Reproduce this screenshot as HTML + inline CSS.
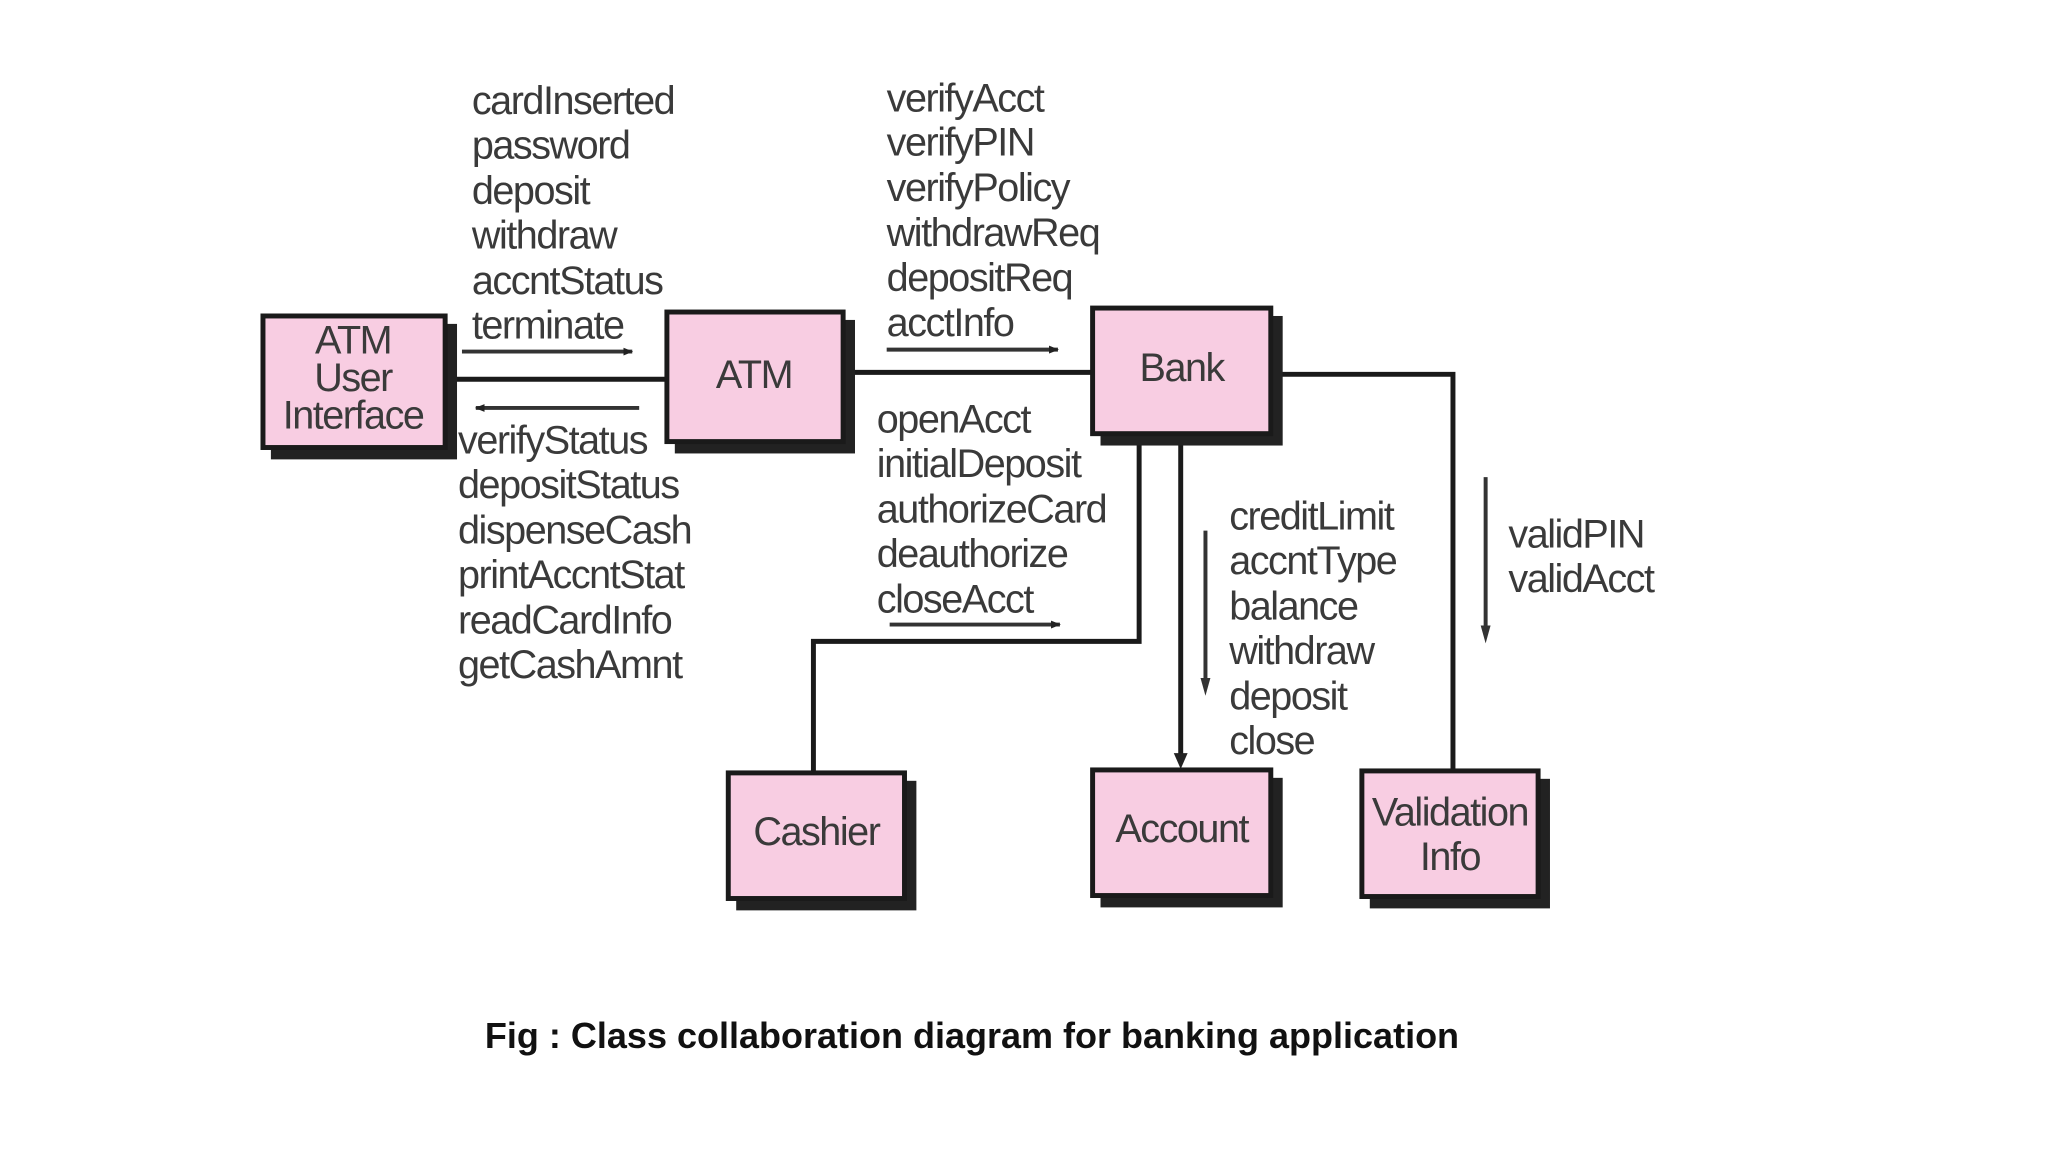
<!DOCTYPE html>
<html><head><meta charset="utf-8"><style>
html,body{margin:0;padding:0;background:#fff}
svg{display:block}
.t{font-family:"Liberation Sans",sans-serif;font-size:40px;fill:#3a3a3a;letter-spacing:-1.5px}
.b{font-family:"Liberation Sans",sans-serif;font-size:40px;fill:#3a3a3a;letter-spacing:-1.5px;text-anchor:middle}
</style></head><body>
<svg width="2048" height="1152" viewBox="0 0 2048 1152" xmlns="http://www.w3.org/2000/svg">
<defs>
<marker id="ah" markerWidth="10" markerHeight="8" refX="9" refY="4" orient="auto" markerUnits="userSpaceOnUse">
<path d="M0,0 L10,4 L0,8 z" fill="#222"/></marker>
</defs>
<g transform="matrix(0.99 0 0 0.989 -1.35 -0.5)">
<g stroke="#1a1a1a" stroke-width="5" fill="none">
<line x1="453" y1="384" x2="673" y2="384"/>
<line x1="855" y1="377" x2="1103" y2="377"/>
<polyline points="1287,379 1469,379 1469,778"/>
<polyline points="1152,441 1152,649 823,649 823,780"/>
<line x1="1194" y1="441" x2="1194" y2="765"/>
</g>
<path d="M1187,762 L1194,778 L1201,762 z" fill="#222"/>
<g stroke="#333" stroke-width="4">
<line x1="468" y1="356" x2="640" y2="356" marker-end="url(#ah)"/>
<line x1="647" y1="413" x2="482" y2="413" marker-end="url(#ah)"/>
<line x1="897" y1="354" x2="1070" y2="354" marker-end="url(#ah)"/>
<line x1="900" y1="632" x2="1072" y2="632" marker-end="url(#ah)"/>
<line x1="1219" y1="537" x2="1219" y2="690"/>
<line x1="1502" y1="483" x2="1502" y2="637"/>
</g>
<path d="M1214,686 L1219,704 L1224,686 z" fill="#333"/>
<path d="M1497,633 L1502,651 L1507,633 z" fill="#333"/>
<g>
<rect x="275" y="328" width="188" height="137" fill="#222"/>
<rect x="267" y="320" width="184" height="133" fill="#f8cde2" stroke="#1a1a1a" stroke-width="5"/>
<rect x="683" y="324" width="182" height="135" fill="#222"/>
<rect x="675" y="316" width="178" height="131" fill="#f8cde2" stroke="#1a1a1a" stroke-width="5"/>
<rect x="1113" y="320" width="184" height="131" fill="#222"/>
<rect x="1105" y="312" width="180" height="127" fill="#f8cde2" stroke="#1a1a1a" stroke-width="5"/>
<rect x="745" y="790" width="182" height="131" fill="#222"/>
<rect x="737" y="782" width="178" height="127" fill="#f8cde2" stroke="#1a1a1a" stroke-width="5"/>
<rect x="1113" y="787" width="184" height="131" fill="#222"/>
<rect x="1105" y="779" width="180" height="127" fill="#f8cde2" stroke="#1a1a1a" stroke-width="5"/>
<rect x="1385" y="788" width="182" height="131" fill="#222"/>
<rect x="1377" y="780" width="178" height="127" fill="#f8cde2" stroke="#1a1a1a" stroke-width="5"/>
</g>
<text class="b" x="358" y="358">ATM</text>
<text class="b" x="358" y="396">User</text>
<text class="b" x="358" y="434">Interface</text>
<text class="b" x="763" y="393">ATM</text>
<text class="b" x="1195" y="386">Bank</text>
<text class="b" x="826" y="855">Cashier</text>
<text class="b" x="1195" y="852">Account</text>
<text class="b" x="1466" y="835">Validation</text>
<text class="b" x="1466" y="880">Info</text>
<g class="t">
<text x="478" y="116">cardInserted</text>
<text x="478" y="161">password</text>
<text x="478" y="207">deposit</text>
<text x="478" y="252">withdraw</text>
<text x="478" y="298">accntStatus</text>
<text x="478" y="343">terminate</text>
<text x="897" y="113">verifyAcct</text>
<text x="897" y="158">verifyPIN</text>
<text x="897" y="204">verifyPolicy</text>
<text x="897" y="249">withdrawReq</text>
<text x="897" y="295">depositReq</text>
<text x="897" y="340">acctInfo</text>
<text x="464" y="459">verifyStatus</text>
<text x="464" y="504">depositStatus</text>
<text x="464" y="550">dispenseCash</text>
<text x="464" y="595">printAccntStat</text>
<text x="464" y="641">readCardInfo</text>
<text x="464" y="686">getCashAmnt</text>
<text x="887" y="438">openAcct</text>
<text x="887" y="483">initialDeposit</text>
<text x="887" y="529">authorizeCard</text>
<text x="887" y="574">deauthorize</text>
<text x="887" y="620">closeAcct</text>
<text x="1243" y="536">creditLimit</text>
<text x="1243" y="581">accntType</text>
<text x="1243" y="627">balance</text>
<text x="1243" y="672">withdraw</text>
<text x="1243" y="718">deposit</text>
<text x="1243" y="763">close</text>
<text x="1525" y="554">validPIN</text>
<text x="1525" y="599">validAcct</text>
</g>
</g>
<text x="972" y="1048" text-anchor="middle" font-family="Liberation Sans, sans-serif" font-weight="bold" font-size="36" fill="#111">Fig : Class collaboration diagram for banking application</text>
</svg>
</body></html>
